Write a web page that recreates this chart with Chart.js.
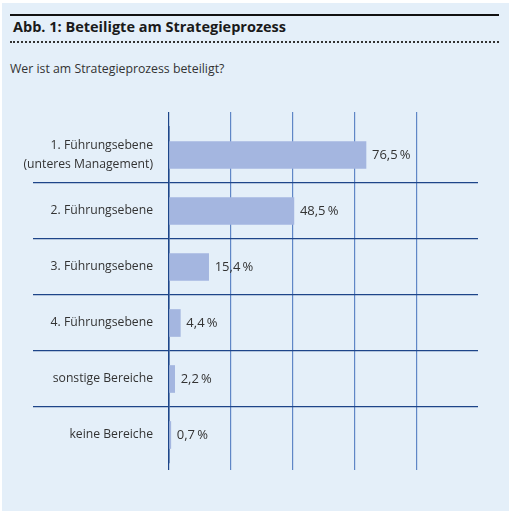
<!DOCTYPE html>
<html>
<head>
<meta charset="utf-8">
<script src="https://cdn.jsdelivr.net/npm/chart.js@4/dist/chart.umd.min.js"></script>
<style>
  body { margin: 0; background: #fff; font-family: "Open Sans", sans-serif; }
  #panel { position: absolute; left: 2px; top: 3px; width: 507px; height: 508px; background: #e4eff9; }
  #rule { position: absolute; left: 10px; top: 14px; width: 489px; height: 2px; background: #111; }
  #title { position: absolute; left: 13px; top: 17px; font-size: 14.5px; font-weight: bold; color: #1a1a1a; white-space: nowrap; }
  #dots { position: absolute; left: 10px; top: 41px; width: 489px; border-bottom: 2px dotted #333; }
  #sub { position: absolute; left: 10px; top: 60px; font-size: 12.3px; color: #333; white-space: nowrap; }
  #wrap { position: absolute; left: 0; top: 0; width: 514px; height: 517px; }
</style>
</head>
<body>
<div id="panel"></div>
<div id="rule"></div>
<div id="title">Abb. 1: Beteiligte am Strategieprozess</div>
<div id="dots"></div>
<div id="sub">Wer ist am Strategieprozess beteiligt?</div>
<div id="wrap"><canvas id="myChart"></canvas></div>
<script>
var categories = [
    ['1. Führungsebene', '(unteres Management)'],
    '2. Führungsebene',
    '3. Führungsebene',
    '4. Führungsebene',
    'sonstige Bereiche',
    'keine Bereiche'
];
var shares = [76.5, 48.5, 15.4, 4.4, 2.2, 0.7];
var scaleMax = 120;
var scaleStep = 24;

var navy = '#1d4589';
var gridBlue = '#5f86c6';

function gridColor(context) {
    if (!context.tick) return 'rgba(0,0,0,0)';
    if (context.tick.value === 0) return navy;
    if (context.tick.value === scaleMax) return 'rgba(0,0,0,0)';
    return gridBlue;
}

var valueLabels = {
    id: 'valueLabels',
    afterDatasetsDraw: function (chart) {
        var ctx = chart.ctx;
        var meta = chart.getDatasetMeta(0);
        ctx.save();
        ctx.font = '13px "Open Sans"';
        ctx.fillStyle = '#333';
        ctx.textBaseline = 'middle';
        ctx.textAlign = 'left';
        meta.data.forEach(function (bar, i) {
            var txt = shares[i].toFixed(1).replace('.', ',') + '\u2009%';
            ctx.fillText(txt, bar.x + 6, bar.y);
        });
        ctx.restore();
    }
};

var ctx = document.getElementById('myChart').getContext('2d');
var myChart = new Chart(ctx, {
    type: 'bar',
    data: {
        labels: categories,
        datasets: [{
            data: shares,
            backgroundColor: '#a4b6e0',
            borderWidth: 0,
            barThickness: 27,
            xAxisID: 'x'
        }]
    },
    plugins: [valueLabels],
    options: {
        indexAxis: 'y',
        responsive: true,
        maintainAspectRatio: false,
        animation: false,
        layout: {
            padding: { left: 10, right: 36, top: 112, bottom: 47 }
        },
        plugins: {
            legend: { display: false },
            tooltip: { enabled: false }
        },
        scales: {
            x: {
                type: 'linear',
                position: 'bottom',
                min: 0,
                max: scaleMax,
                ticks: { display: false, stepSize: scaleStep },
                border: { display: false },
                grid: { color: gridColor, lineWidth: 1.2, tickLength: 7 }
            },
            x2: {
                type: 'linear',
                position: 'top',
                min: 0,
                max: scaleMax,
                ticks: { display: false, stepSize: scaleStep },
                border: { display: false },
                grid: { color: gridColor, lineWidth: 1.2, tickLength: 15, drawOnChartArea: false }
            },
            y: {
                type: 'category',
                position: 'left',
                afterFit: function (scale) { scale.width = 159; },
                border: { display: true, color: navy, width: 1.5 },
                grid: {
                    offset: true,
                    tickLength: 136,
                    lineWidth: 1.2,
                    color: function (context) {
                        if (!context.tick || context.index === 0) return 'rgba(0,0,0,0)';
                        return navy;
                    }
                },
                ticks: {
                    padding: -120,
                    color: '#333',
                    font: { family: 'Open Sans', size: 12.2, lineHeight: 1.6 }
                }
            }
        }
    }
});
</script>
</body>
</html>
